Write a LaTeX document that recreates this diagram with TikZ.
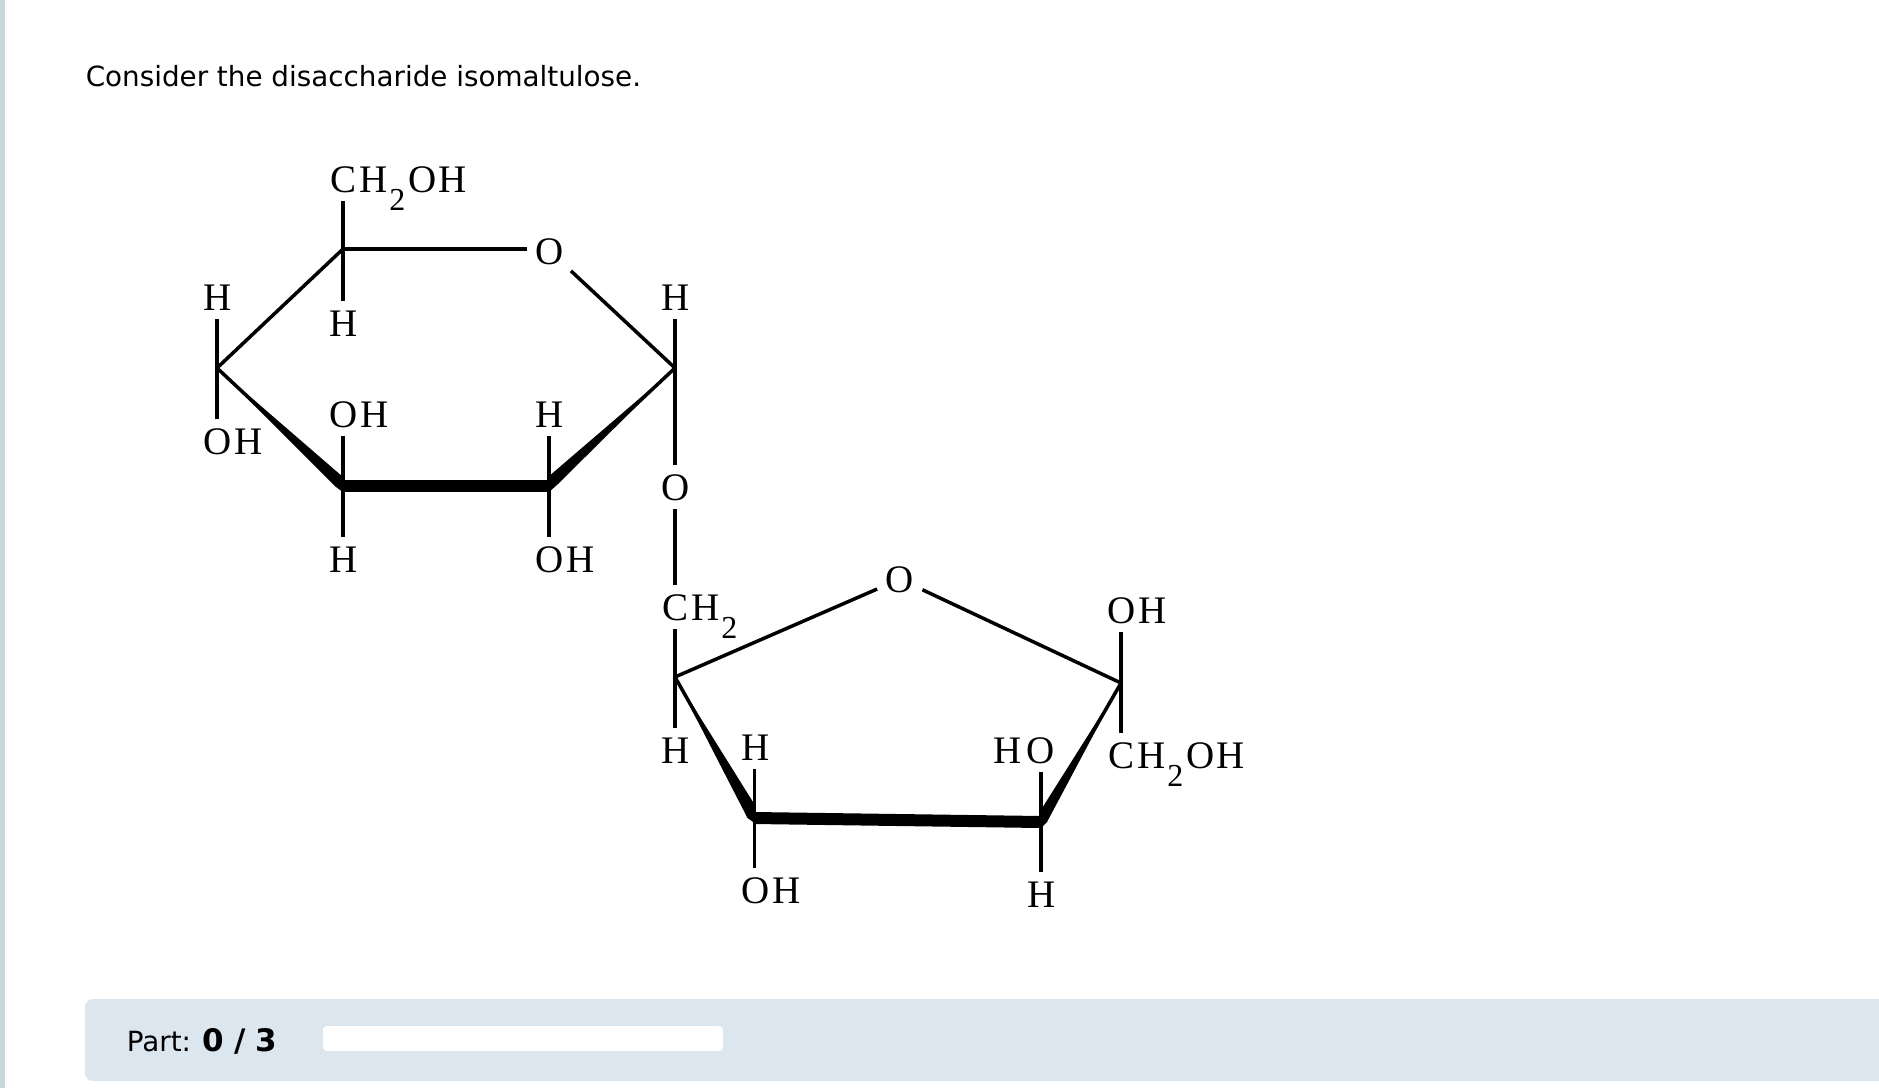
\documentclass[tikz,border=0pt]{standalone}
\usepackage{fontspec}
\usepackage{tikz}
\usetikzlibrary{calc}
\setmainfont{DejaVu Sans}
\newfontfamily\chemfont[LetterSpace=6]{Liberation Serif}
\newcommand{\subtwo}{\kern2pt\raisebox{-18pt}{\fontsize{32}{32}\selectfont 2}\kern3pt}
\definecolor{stripgray}{HTML}{C8D6DD}
\definecolor{panelblue}{HTML}{DCE6EE}

\begin{document}
\begin{tikzpicture}[x=1pt,y=-1pt,line width=3.5pt,
  bond/.style={shorten >=7.5pt},
  ring/.style={shorten >=0pt},
  link/.style={shorten <=7.5pt,shorten >=7.5pt},
  heavy/.style={line width=12pt},
  atom/.style={inner sep=0pt,text height=25.7pt,text depth=0pt,anchor=base west,font=\chemfont\fontsize{39}{39}\selectfont},
  plain/.style={inner sep=0pt,anchor=base west,font=\fontsize{27.8}{28}\selectfont}]
  \useasboundingbox (0,0) rectangle (1879,1088);
  \fill[stripgray] (0,0) rectangle (4.8,1088);
  \fill[panelblue,rounded corners=8pt] (1879,999) -- (85,999) -- (85,1081) [sharp corners] -- (1879,1081) -- cycle;
  \fill[white,rounded corners=4pt] (323,1026) rectangle (723,1051);
  \node[plain] (title) at (84,86) {Consider the disaccharide isomaltulose.};
  \node[plain] (part) at (125,1051) {Part:\hspace{12pt}{\fontsize{31}{31}\selectfont\textbf{0\hspace{10pt}/\hspace{10pt}3}}};

  % six membered ring
  \coordinate (c1) at (343,249);
  \coordinate (c2) at (217,368);
  \coordinate (c3) at (343,486);
  \coordinate (c4) at (549,486);
  \coordinate (c5) at (675,368);
  \node[atom] (oa) at (534,264) {O};
  \node[atom] (cha) at (329,192) {CH\subtwo OH};
  \node[atom] (ha) at (328,336) {H};
  \node[atom] (hb) at (202,310) {H};
  \node[atom] (oha) at (202,454) {OH};
  \node[atom] (ohb) at (328,427) {OH};
  \node[atom] (hc) at (328,572) {H};
  \node[atom] (hd) at (534,427) {H};
  \node[atom] (ohc) at (534,572) {OH};
  \node[atom] (he) at (660,310) {H};

  \path[draw,bond] (c1) edge (c1 |- cha.south)
        edge (c1 |- ha.north)
        edge (c1 -| oa.west)
        edge[ring] (c2)
    (c2) edge (c2 |- hb.south)
        edge (c2 |- oha.north)
        edge[ring] (c3)
    (c3) edge (c3 |- ohb.south)
        edge (c3 |- hc.north)
    (c4) edge (c4 |- hd.south)
        edge (c4 |- ohc.north)
        edge[ring] (c5)
    (c5) edge (oa)
        edge (c5 |- he.south);
  \draw[heavy] (c3) -- (c4);
  \fill (c2) -- ($(c3)+(0,-9)$) -- ($(c3)+(0,6)$) -- ($(c3)+(-7,1)$) -- cycle;
  \fill (c5) -- ($(c4)+(-1,-9)$) -- ($(c4)+(0,6)$) -- ($(c4)+(9,-2)$) -- cycle;

  % five membered ring
  \coordinate (c6) at (675,677);
  \coordinate (c7) at (754.5,818);
  \coordinate (c8) at (1041,822);
  \coordinate (c9) at (1121,683);
  \node[atom] (ob) at (660,500) {O};
  \node[atom] (chb) at (661,620) {CH\subtwo};
  \node[atom] (oc) at (884,592) {O};
  \node[atom] (hf) at (660,763) {H};
  \node[atom] (hg) at (740,760) {H};
  \node[atom] (ohd) at (740,903) {OH};
  \node[atom] (hoa) at (992,763) {H\kern5pt O};
  \node[atom] (hh) at (1026,907) {H};
  \node[atom] (ohe) at (1106,623) {OH};
  \node[atom] (chc) at (1107,768) {CH\subtwo OH};

  \path[draw,bond] (c5) edge (c5 |- ob.north)
    (c6) edge (c6 |- chb.south)
        edge (c6 |- hf.north)
        edge (oc)
        edge[ring] (c7)
    (c7) edge (c7 |- hg.south)
        edge (c7 |- ohd.north)
    (c8) edge (c8 |- hoa.south)
        edge (c8 |- hh.north)
        edge[ring] (c9)
    (c9) edge (oc)
        edge (c9 |- ohe.south)
        edge (c9 |- chc.north);
  \draw[link] (c5 |- ob.south) -- (c5 |- chb.north);
  \draw[heavy] (c7) -- (c8);
  \fill (c6) -- ($(c7)+(1,-12)$) -- ($(c7)+(0,5)$) -- ($(c7)+(-7,0)$) -- cycle;
  \fill (c9) -- ($(c8)+(-2,-9)$) -- ($(c8)+(0,6)$) -- ($(c8)+(6,0)$) -- cycle;
\end{tikzpicture}
\end{document}
